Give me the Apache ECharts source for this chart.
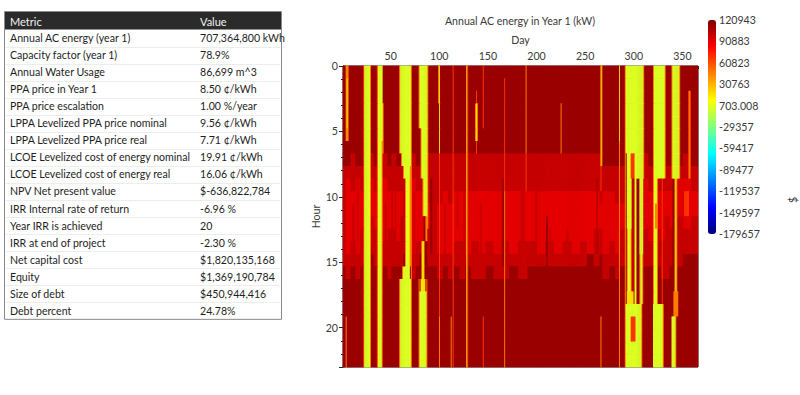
<!DOCTYPE html>
<html><head><meta charset="utf-8">
<script src="https://cdn.jsdelivr.net/npm/echarts@6/dist/echarts.min.js"></script>
<style>html,body{margin:0;padding:0;background:#fff}#c{width:800px;height:395px}</style>
</head><body><div id="c"></div>
<script>
// ---------- table data ----------
const metricNames = ['Annual AC energy (year 1)','Capacity factor (year 1)','Annual Water Usage','PPA price in Year 1','PPA price escalation','LPPA Levelized PPA price nominal','LPPA Levelized PPA price real','LCOE Levelized cost of energy nominal','LCOE Levelized cost of energy real','NPV Net present value','IRR Internal rate of return','Year IRR is achieved','IRR at end of project','Net capital cost','Equity','Size of debt','Debt percent'];
const metricValues = ['707,364,800 kWh','78.9%','86,699 m^3','8.50 \u00a2/kWh','1.00 %/year','9.56 \u00a2/kWh','7.71 \u00a2/kWh','19.91 \u00a2/kWh','16.06 \u00a2/kWh','$-636,822,784','-6.96 %','20','-2.30 %','$1,820,135,168','$1,369,190,784','$450,944,416','24.78%'];

// ---------- heatmap data ----------
const dayCategories = Array.from({length: 365}, (_, i) => String(i + 1));
const hourCategories = Array.from({length: 24}, (_, i) => String(i));
const dayTicks = [50, 100, 150, 200, 250, 300, 350];
const hourTicks = [0, 5, 10, 15, 20];
const legendTicks = [-179657, -149597, -119537, -89477, -59417, -29357, 703.008, 30763, 60823, 90883, 120943];
const colorMin = -179657, colorMax = 120943;

// level codes (kW)
const levelValues = {D: 113000, m: 106000, M: 100000, R: 91000, A: 68000, O: 45000, y: 18000, Y: -2000};
const baseLevel = 'D';
// daytime band: [dayFrom, dayTo, mediumTopHour, brightTopHour, brightBottomHour, mediumBottomHour]
const bandSegments = [
  [1,3,8,99,0,15],[4,8,8,9,14,16],[9,13,7,10,13,15],[14,18,8,9,14,16],[19,22,8,10,12,15],
  [29,32,7,9,11,14],[33,36,8,10,12,15],
  [42,46,7,9,13,15],[47,50,8,10,12,16],[51,55,7,99,0,15],[56,59,8,10,13,15],
  [60,62,8,10,11,15],[63,65,8,99,0,14],
  [71,75,7,9,14,16],[76,79,8,10,13,15],[80,83,8,10,13,14],
  [88,92,7,11,12,15],[93,97,7,99,0,15],[98,103,7,11,14,16],[104,108,7,10,14,15],[109,114,7,11,14,16],[115,120,7,10,13,15],
  [121,126,7,10,13,16],[127,132,7,10,14,15],[133,140,7,10,13,16],[141,147,7,10,14,16],[148,155,7,10,13,15],
  [156,163,7,10,14,16],[164,171,7,10,13,16],[172,180,7,10,14,15],[181,190,7,10,13,16],[191,199,7,10,13,15],
  [200,208,7,10,14,15],[209,217,7,10,13,15],[218,226,7,10,14,15],[227,235,7,10,13,15],[236,244,7,10,14,15],
  [245,251,7,10,13,15],[252,258,7,10,14,14],[259,264,7,10,12,15],[265,267,7,11,12,14],
  [268,274,8,10,14,16],[275,280,8,10,13,15],[281,284,8,11,14,16],[285,291,8,11,12,15],
  [310,314,7,9,12,15],[315,320,8,10,13,15],[324,327,8,10,12,15],[328,331,8,10,13,16],
  [332,336,8,10,11,16],[337,339,8,10,12,15],[345,350,8,9,11,15],[351,358,7,9,12,14],[359,365,8,10,11,14]
];
// outages, low-output streaks and dark streaks: [dayFrom, dayTo, hourFrom, hourTo, level]
const stripeBlocks = [
  [11,12,11,14,'M'],[16,16,9,13,'M'],[44,45,11,14,'M'],[53,54,10,12,'R'],[74,74,10,15,'M'],[91,92,9,14,'D'],
  [105,106,11,14,'M'],[118,119,8,12,'M'],
  [125,126,10,15,'M'],[142,143,11,15,'M'],[165,166,9,15,'D'],[184,187,10,16,'M'],[199,200,10,14,'M'],
  [210,211,12,15,'D'],[213,214,13,15,'M'],[231,232,13,15,'M'],[262,262,9,14,'D'],
  [4,6,0,5,'O'],[5,5,1,4,'y'],[4,4,20,23,'O'],
  [22,22,0,23,'A'],[23,28,0,23,'Y'],[29,29,0,23,'O'],
  [36,36,0,23,'A'],[37,41,0,5,'Y'],[42,42,3,6,'O'],[37,40,6,23,'Y'],[41,41,6,23,'O'],
  [59,59,0,6,'O'],[60,70,0,6,'Y'],[71,71,0,23,'O'],[61,61,7,7,'O'],[62,70,7,7,'Y'],[63,63,8,8,'O'],[64,69,8,8,'Y'],
  [70,70,8,15,'O'],[65,65,9,15,'O'],[66,68,9,15,'Y'],[69,69,9,15,'y'],[62,62,16,16,'O'],[63,69,16,16,'Y'],
  [59,59,17,23,'O'],[60,70,17,23,'Y'],
  [79,79,0,4,'O'],[80,87,0,4,'Y'],[88,88,0,12,'O'],[81,81,5,8,'O'],[82,87,5,8,'Y'],[83,83,9,11,'O'],[84,87,9,11,'Y'],
  [86,87,12,13,'O'],[82,84,14,16,'y'],[81,85,17,17,'y'],[79,79,17,23,'O'],[80,86,18,23,'Y'],[87,87,17,23,'O'],
  [99,99,0,2,'O'],[100,100,0,6,'y'],[100,100,7,19,'A'],[100,100,20,23,'O'],
  [112,112,20,23,'O'],[114,114,0,23,'A'],
  [128,128,0,23,'y'],[129,129,0,23,'A'],
  [138,138,2,2,'A'],[137,137,3,5,'O'],[138,138,3,5,'y'],[139,139,3,5,'O'],[138,138,6,6,'A'],
  [145,145,0,4,'A'],[145,145,20,23,'A'],
  [167,167,1,9,'A'],[167,167,10,23,'O'],
  [189,189,0,6,'O'],[189,189,7,9,'A'],
  [225,225,3,6,'O'],
  [266,266,0,7,'y'],[267,267,0,7,'O'],[266,266,8,9,'A'],[266,266,20,23,'O'],
  [285,285,0,23,'O'],[285,285,0,5,'y'],
  [291,291,0,23,'O'],[292,309,0,6,'Y'],[310,310,0,8,'O'],[293,309,7,8,'Y'],[297,300,7,8,'A'],
  [293,297,9,12,'Y'],[293,293,13,17,'O'],[294,296,13,17,'Y'],[297,297,13,17,'O'],
  [298,300,9,18,'M'],[301,302,9,18,'Y'],[303,305,9,18,'D'],[306,309,9,14,'Y'],
  [306,306,15,18,'O'],[307,308,15,18,'Y'],[309,309,15,18,'O'],[293,299,18,18,'y'],
  [292,307,19,23,'Y'],[297,301,20,21,'A'],[308,308,19,23,'O'],
  [320,320,0,8,'O'],[321,331,0,8,'Y'],[332,332,0,8,'O'],[320,320,9,18,'O'],[321,323,9,18,'Y'],[324,324,9,18,'O'],
  [322,323,11,12,'O'],[329,329,9,18,'A'],[320,329,19,23,'Y'],[330,330,19,23,'O'],
  [339,339,0,8,'O'],[340,346,0,8,'Y'],[347,347,0,8,'O'],[342,342,9,17,'O'],[343,343,9,17,'Y'],[344,344,9,17,'O'],
  [341,345,18,19,'O'],[339,342,20,23,'Y'],[343,343,20,23,'O'],
  [356,358,2,8,'A'],[357,357,2,8,'O'],[352,356,10,11,'A'],[344,344,14,16,'O']
];

// ---------- build cells ----------
const cells = hourCategories.map(() => dayCategories.map(() => baseLevel));
bandSegments.forEach(([d1, d2, mt, bt, bb, mb]) => {
  for (let d = d1; d <= d2; d++) for (let h = mt; h <= mb; h++)
    cells[h][d - 1] = (h >= bt && h <= bb) ? 'R' : 'M';
});
stripeBlocks.forEach(([d1, d2, h1, h2, c]) => {
  for (let d = d1; d <= d2; d++) for (let h = h1; h <= h2; h++) cells[h][d - 1] = c;
});
const heatData = [];
cells.forEach((row, h) => row.forEach((c, d) => heatData.push([d, h, levelValues[c]])));

// ---------- table graphics ----------
const FONT = 'Lato, "Noto Sans", sans-serif';
const FS = 10.6;
const tbl = {x: 4.5, y: 11.5, w: 277, head: 18, row: 17.05, col2: 200};
const tableGraphics = [
  {type: 'rect', shape: {x: tbl.x, y: tbl.y, width: tbl.w, height: tbl.head + tbl.row * metricNames.length}, style: {fill: '#fff', stroke: '#8a8a8a', lineWidth: 1}},
  {type: 'rect', shape: {x: tbl.x + 0.5, y: tbl.y + 0.5, width: tbl.w - 1, height: tbl.head - 0.5}, style: {fill: '#2b2b2b'}},
  {type: 'text', x: 10, y: tbl.y + tbl.head / 2 + 0.5, style: {text: 'Metric', fill: '#f2f2f2', fontSize: FS + 0.4, fontFamily: FONT, verticalAlign: 'middle'}},
  {type: 'text', x: tbl.col2, y: tbl.y + tbl.head / 2 + 0.5, style: {text: 'Value', fill: '#f2f2f2', fontSize: FS + 0.4, fontFamily: FONT, verticalAlign: 'middle'}}
];
metricNames.forEach((name, i) => {
  const y0 = tbl.y + tbl.head + i * tbl.row;
  if (i > 0) tableGraphics.push({type: 'line', shape: {x1: tbl.x + 1, y1: Math.round(y0) + 0.5, x2: tbl.x + tbl.w - 1, y2: Math.round(y0) + 0.5}, style: {stroke: '#ededed', lineWidth: 1}});
  tableGraphics.push({type: 'text', x: 10, y: y0 + tbl.row / 2, style: {text: name, fill: '#1e1e1e', fontSize: FS, fontFamily: FONT, verticalAlign: 'middle'}});
  tableGraphics.push({type: 'text', x: tbl.col2, y: y0 + tbl.row / 2, style: {text: metricValues[i], fill: '#1e1e1e', fontSize: FS, fontFamily: FONT, verticalAlign: 'middle'}});
});

const jet = ['#000080', '#0000ff', '#0080ff', '#00ffff', '#80ff80', '#ffff00', '#ff8000', '#ff0000', '#800000'];
const labelStyle = {fontFamily: FONT, fontSize: FS, color: '#3a3a3a'};
const plot = {left: 343, top: 66, width: 355, height: 301};

const chart = echarts.init(document.getElementById('c'), null, {renderer: 'svg', width: 800, height: 395});
chart.setOption({
  animation: false,
  backgroundColor: '#fff',
  textStyle: {fontFamily: FONT},
  grid: [
    Object.assign({show: true, backgroundColor: '#9a0000', borderWidth: 0}, plot),
    Object.assign({show: true, backgroundColor: 'transparent', borderColor: '#2a2a2a', borderWidth: 1}, plot),
    {left: 708, top: 20, width: 8, height: 214}
  ],
  xAxis: [
    {type: 'category', gridIndex: 0, data: dayCategories, show: false},
    {type: 'value', gridIndex: 1, position: 'top', min: 1, max: 366, minInterval: 50, maxInterval: 50,
     axisLine: {show: true, lineStyle: {color: '#8a8a8a'}}, axisTick: {show: true, inside: true, length: 3, lineStyle: {color: '#222'}},
     splitLine: {show: false},
     axisLabel: Object.assign({margin: 5, formatter: v => dayTicks.includes(v) ? String(v) : ''}, labelStyle),
     name: 'Day', nameLocation: 'middle', nameGap: 20, nameTextStyle: labelStyle},
    {type: 'value', gridIndex: 2, show: false}
  ],
  yAxis: [
    {type: 'category', gridIndex: 0, data: hourCategories, inverse: true, show: false},
    {type: 'value', gridIndex: 1, min: 0, max: 23, interval: 5, inverse: true,
     axisLine: {show: true, lineStyle: {color: '#222'}}, axisTick: {show: true, length: 4, lineStyle: {color: '#222'}},
     minorTick: {show: true, splitNumber: 5, length: 2, lineStyle: {color: '#222'}},
     splitLine: {show: false},
     axisLabel: Object.assign({margin: 5, formatter: v => hourTicks.includes(v) ? String(v) : ''}, labelStyle),
     name: 'Hour', nameLocation: 'middle', nameGap: 20, nameRotate: 90, nameTextStyle: labelStyle},
    {type: 'value', gridIndex: 2, position: 'right', min: colorMin, max: colorMax, interval: 30060,
     axisLine: {show: false}, axisTick: {show: false}, splitLine: {show: false},
     axisLabel: Object.assign({margin: 3, formatter: v => {
       let best = legendTicks[0];
       legendTicks.forEach(t => { if (Math.abs(t - v) < Math.abs(best - v)) best = t; });
       return String(best);
     }}, labelStyle)}
  ],
  visualMap: {
    type: 'continuous', min: colorMin, max: colorMax, seriesIndex: 0, calculable: false,
    left: 708, top: 20, itemWidth: 8, itemHeight: 214, padding: 0, inRange: {color: jet}, hoverLink: false
  },
  series: [{
    type: 'heatmap', xAxisIndex: 0, yAxisIndex: 0, data: heatData, progressive: 0, silent: true,
    emphasis: {disabled: true}
  }],
  graphic: tableGraphics.concat([
    {type: 'text', x: 520, y: 21, style: {text: 'Annual AC energy in Year 1 (kW)', align: 'center', verticalAlign: 'middle', fontSize: FS, fontFamily: FONT, fill: '#3a3a3a'}},
    {type: 'text', x: 793, y: 200, rotation: Math.PI / 2, style: {text: '$', align: 'center', verticalAlign: 'middle', fontSize: FS, fontFamily: FONT, fill: '#3a3a3a'}}
  ])
});
</script>
</body></html>
